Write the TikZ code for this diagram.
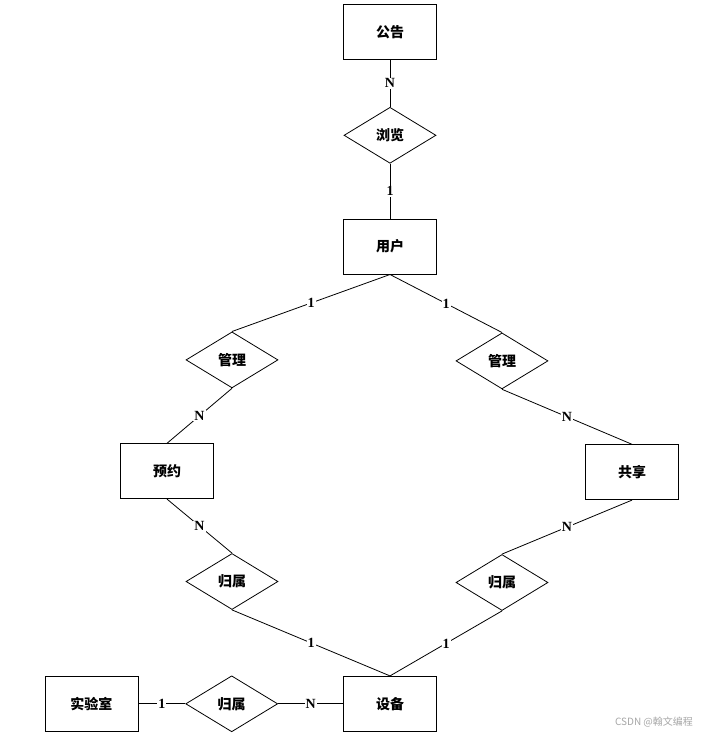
\documentclass[tikz,border=0pt]{standalone}
\usepackage{fontspec}
\newfontfamily\cjk{Noto Sans CJK SC}
\newfontfamily\cardfont{Liberation Serif}
\usetikzlibrary{positioning,shapes.geometric}

\begin{document}
\begin{tikzpicture}[
  every node/.style={font=\cjk\bfseries\fontsize{14}{16}\selectfont, align=center},
  entity/.style={draw, line width=0.8pt, minimum width=93pt, minimum height=55pt, inner sep=0pt},
  rel/.style={draw, diamond, aspect=1.65, line width=0.8pt, minimum width=92pt, minimum height=56pt, inner sep=0pt},
  card/.style={fill=white, inner sep=1pt, font=\cardfont\bfseries\fontsize{14}{15}\selectfont},
  link/.style={line width=0.8pt}
]
\useasboundingbox (0,0) rectangle (710pt,-737pt);
\node[entity] (gonggao) at (390pt,-32pt) {公告};
\node[rel, below=47pt of gonggao] (liulan) {浏览};
\node[entity, below=55pt of liulan] (yonghu) {用户};
\node[rel, below=57pt of yonghu.south, xshift=-158pt] (guanliL) {管理};
\node[rel, below=58pt of yonghu.south, xshift=112pt] (guanliR) {管理};
\node[entity, below=55pt of guanliL.south, xshift=-65pt] (yuyue) {预约};
\node[entity, below=55pt of guanliR.south, xshift=130pt] (gongxiang) {共享};
\node[rel, below=54pt of yuyue.south, xshift=65pt] (guishuL) {归属};
\node[rel, below=54pt of gongxiang.south, xshift=-130pt] (guishuR) {归属};
\node[entity, below=66pt of guishuL.south, xshift=158pt] (shebei) {设备};
\node[rel, left=65pt of shebei] (guishuB) {归属};
\node[entity, left=47pt of guishuB] (shiyanshi) {实验室};
\draw[link] (gonggao) -- node[card]{N} (liulan);
\draw[link] (liulan) -- node[card]{1} (yonghu);
\draw[link] (yonghu.south) -- node[card]{1} (guanliL.north);
\draw[link] (yonghu.south) -- node[card]{1} (guanliR.north);
\draw[link] (guanliL.south) -- node[card]{N} (yuyue.north);
\draw[link] (guanliR.south) -- node[card]{N} (gongxiang.north);
\draw[link] (yuyue.south) -- node[card]{N} (guishuL.north);
\draw[link] (gongxiang.south) -- node[card]{N} (guishuR.north);
\draw[link] (guishuL.south) -- node[card]{1} (shebei.north);
\draw[link] (guishuR.south) -- node[card]{1} (shebei.north);
\draw[link] (shiyanshi) -- node[card]{1} (guishuB);
\draw[link] (guishuB) -- node[card]{N} (shebei);
\node[text=black!35, font=\cjk\fontsize{10}{12}\selectfont] (mark) at (654pt,-722pt) {CSDN @翰文编程};
\end{tikzpicture}
\end{document}
